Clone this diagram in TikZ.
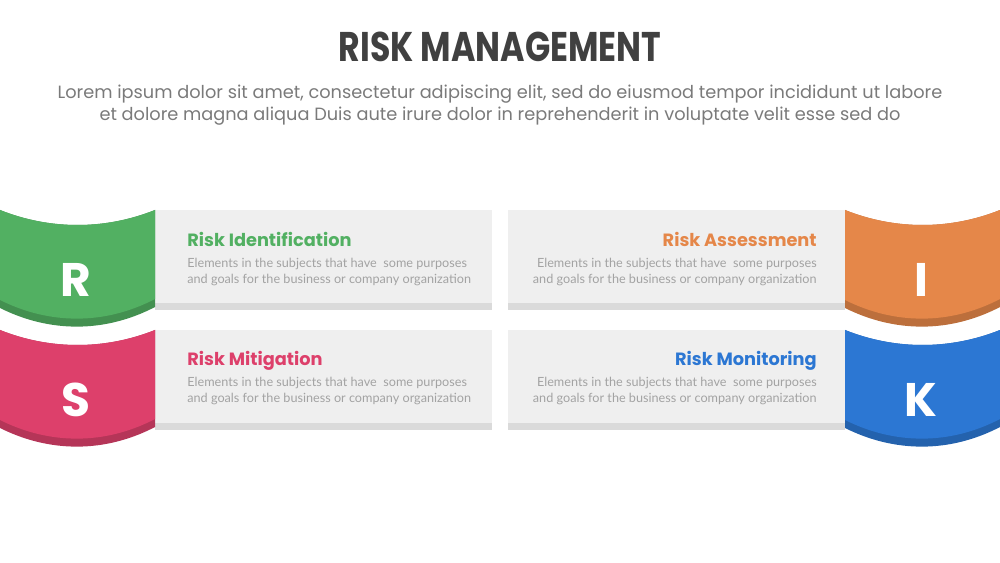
\documentclass[tikz,border=0pt]{standalone}
\usepackage{fontspec}
\setmainfont{Poppins}
\newfontfamily\latofont{Lato}
\usetikzlibrary{positioning}

\definecolor{rgreen}{HTML}{52B062}
\definecolor{rpink}{HTML}{DD406B}
\definecolor{rorange}{HTML}{E58749}
\definecolor{rblue}{HTML}{2C77D3}
\definecolor{boxgray}{HTML}{EFEFEF}
\definecolor{stripgray}{HTML}{DADADA}
\definecolor{descgray}{HTML}{A3A3A3}
\definecolor{titlegray}{HTML}{404040}
\definecolor{subgray}{HTML}{7A7A7A}

\tikzset{
  box/.style = {fill=boxgray, minimum width=6.74cm, minimum height=2cm, inner sep=0pt},
  head/.style = {font=\bfseries\fontsize{10.1}{12}\selectfont, inner sep=0pt},
  desc/.style = {font=\latofont\fontsize{7.2}{9.1}\selectfont, text=descgray, inner sep=0pt},
  letter/.style = {font=\bfseries\fontsize{26.8}{30}\selectfont, text=white},
}

\begin{document}
\begin{tikzpicture}[x=0.02cm, y=-0.02cm]
\useasboundingbox (0,0) rectangle (1000,563);

% heading
\node[font=\bfseries\fontsize{23.6}{26}\selectfont, text=titlegray, anchor=base] (title) at (500,62)
  {\scalebox{0.8}[1]{RISK MANAGEMENT}};
\node[font=\fontsize{10.1}{12.5}\selectfont, text=subgray, align=center, anchor=north] (sub) at (500,79)
  {Lorem ipsum dolor sit amet, consectetur adipiscing elit, sed do eiusmod tempor incididunt ut labore\\
   et dolore magna aliqua Duis aute irure dolor in reprehenderit in voluptate velit esse sed do};

% boxes
\node[box] (b1) at (323.5,260) {};
\node[box] (b2) at (323.5,380) {};
\node[box] (b3) at (676.5,260) {};
\node[box] (b4) at (676.5,380) {};
\foreach \b in {b1,b2,b3,b4}
  \fill[stripgray] (\b.south west) rectangle ([yshift=0.14cm]\b.south east);

% tabs
\foreach \x/\y/\c/\l in {0/210/rgreen/R, 0/330/rpink/S, 845/210/rorange/I, 845/330/rblue/K}{
  \fill[\c!82!black] (\x,\y) .. controls (\x+50,\y+20) and (\x+105,\y+20) .. (\x+155,\y)
    -- (\x+155,\y+97) .. controls (\x+105,\y+123) and (\x+50,\y+123) .. (\x,\y+98) -- cycle;
  \fill[\c] (\x,\y) .. controls (\x+50,\y+20) and (\x+105,\y+20) .. (\x+155,\y)
    -- (\x+155,\y+89) .. controls (\x+105,\y+115) and (\x+50,\y+115) .. (\x,\y+90) -- cycle;
  \node[letter] (tab-\l) at (\x+76,\y+70) {\l};
}

% texts
\node[head, text=rgreen, anchor=base west] (h1) at (187,247) {Risk Identification};
\node[desc, align=left, anchor=north west] (d1) at (187,258)
  {Elements in the subjects that have\ \ some purposes\\and goals for the business or company organization};
\node[head, text=rpink, anchor=base west] (h2) at (187,366) {Risk Mitigation};
\node[desc, align=left, anchor=north west] (d2) at (187,377)
  {Elements in the subjects that have\ \ some purposes\\and goals for the business or company organization};
\node[head, text=rorange, anchor=base east] (h3) at (817,247) {Risk Assessment};
\node[desc, align=right, anchor=north east] (d3) at (817,258)
  {Elements in the subjects that have\ \ some purposes\\and goals for the business or company organization};
\node[head, text=rblue, anchor=base east] (h4) at (817,366) {Risk Monitoring};
\node[desc, align=right, anchor=north east] (d4) at (817,377)
  {Elements in the subjects that have\ \ some purposes\\and goals for the business or company organization};
\end{tikzpicture}
\end{document}
